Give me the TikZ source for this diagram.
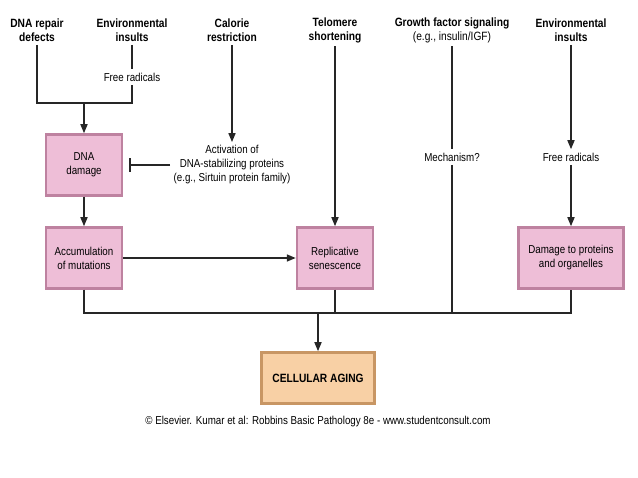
\documentclass[tikz,border=0pt]{standalone}
\usepackage{fontspec}
\setmainfont{Liberation Sans}[FakeStretch=0.85]
\usetikzlibrary{arrows.meta}
\definecolor{boxpink}{RGB}{238,190,215}
\definecolor{boxedge}{RGB}{190,130,160}
\definecolor{peach}{RGB}{248,208,165}
\definecolor{peachedge}{RGB}{200,150,100}
\begin{document}
\begin{tikzpicture}[x=1pt,y=-1pt,
  lbl/.style={align=center,font=\fontsize{12}{14}\selectfont\bfseries},
  txt/.style={align=center,font=\fontsize{11.5}{14}\selectfont},
  box/.style={draw=boxedge,line width=2.5pt,fill=boxpink,minimum width=76pt,minimum height=61pt,align=center,font=\fontsize{11.5}{14}\selectfont,
     path picture={\draw[black!75,line width=0.8pt] (path picture bounding box.south west) rectangle (path picture bounding box.north east);}},
  ln/.style={line width=1.6pt,black!85},
  ar/.style={ln,-{Triangle[length=9pt,width=7pt]}}]
\useasboundingbox (0,0) rectangle (638,478);
\node[lbl] (dr) at (37,30) {DNA repair\\defects};
\node[lbl] (ei1) at (132,30) {Environmental\\insults};
\node[lbl] (cr) at (232,30) {Calorie\\restriction};
\node[lbl] (ts) at (335,30) {Telomere\\shortening};
\node[lbl] (gf) at (452,30) {Growth factor signaling\\\mdseries(e.g., insulin/IGF)};
\node[lbl] (ei2) at (571,30) {Environmental\\insults};
\node[txt] (fr1) at (132,77) {Free radicals};
\node[txt] (act) at (232,165) {Activation of\\DNA-stabilizing proteins\\(e.g., Sirtuin protein family)};
\node[txt] (mech) at (452,157) {Mechanism?};
\node[txt] (fr2) at (571,157) {Free radicals};
\node[box] (dd) at (84,165) {DNA\\damage};
\node[box] (acc) at (84,258) {Accumulation\\of mutations};
\node[box] (rs) at (335,258) {Replicative\\senescence};
\node[box,minimum width=105pt] (dp) at (571,258) {Damage to proteins\\and organelles};
\node[draw=peachedge,line width=2.5pt,fill=peach,minimum width=113pt,minimum height=51pt,font=\fontsize{12}{14}\selectfont\bfseries,
  path picture={\draw[black!75,line width=0.8pt] (path picture bounding box.south west) rectangle (path picture bounding box.north east);}] (ca) at (318,378) {CELLULAR AGING};
\node[font=\fontsize{11.5}{14}\selectfont] (cap) at (318,422) {© Elsevier. Kumar et al: Robbins Basic Pathology 8e - www.studentconsult.com};
\coordinate (j1) at (84,103);
\coordinate (j2) at (318,313);
\draw[ln] (dr) -- (37,103) -- (132,103) -- (fr1);
\draw[ln] (ei1) -- (fr1);
\draw[ar] (j1) -- (dd);
\draw[ar] (cr) -- (act);
\draw[ln,-{Bar[width=14pt]}] (act) -- ([xshift=6pt]dd.east);
\draw[ar] (dd) -- (acc);
\draw[ar] (acc) -- (rs);
\draw[ar] (ts) -- (rs);
\draw[ln] (gf) -- (mech);
\draw[ar] (ei2) -- (fr2);
\draw[ar] (fr2) -- (dp);
\draw[ln] (acc.south) -- (84,313) -- (571,313) -- (dp.south);
\draw[ln] (rs.south) -- (335,313);
\draw[ln] (mech) -- (452,313);
\draw[ar] (j2) -- (ca);
\end{tikzpicture}
\end{document}
